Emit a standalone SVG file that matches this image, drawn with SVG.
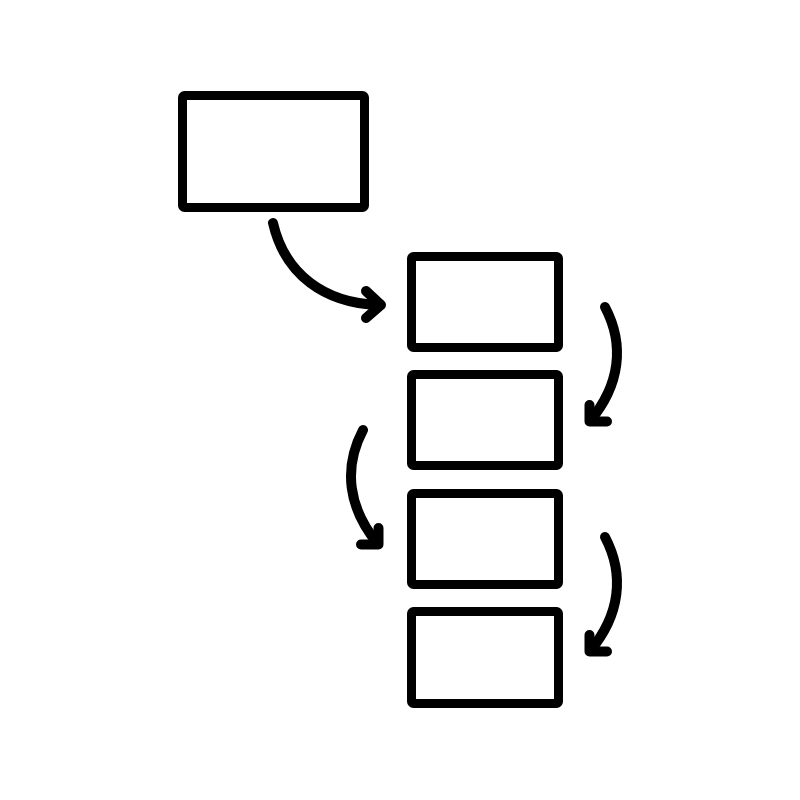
<svg xmlns="http://www.w3.org/2000/svg" width="800" height="800" viewBox="0 0 800 800">
<style>
.box{fill:#fff;stroke:#000;stroke-width:9;stroke-linejoin:round}
.conn{fill:none;stroke:#000;stroke-width:10;stroke-linecap:round;stroke-linejoin:round}
</style>
<rect width="800" height="800" fill="#fff"/>
<g id="node-top"><rect class="box" x="182.5" y="95.5" width="182" height="112" rx="2"/></g>
<g id="node-1"><rect class="box" x="411.5" y="256.5" width="147" height="91" rx="2"/></g>
<g id="node-2"><rect class="box" x="411.5" y="374.5" width="147" height="91" rx="2"/></g>
<g id="node-3"><rect class="box" x="411.5" y="493.5" width="147" height="91" rx="2"/></g>
<g id="node-4"><rect class="box" x="411.5" y="611.5" width="147" height="92" rx="2"/></g>
<g id="connectors">
<path class="conn" d="M273,223 C285,275 325,303 378,305"/>
<path class="conn" d="M366,291 L381,305 L366,318"/>
<path class="conn" d="M605,307 C625,345 620,385 590,421"/>
<path class="conn" d="M589.5,405 L589.5,421.5 L607,421.5"/>
<path class="conn" d="M363,430 C343,468 348,508 378,544"/>
<path class="conn" d="M378.5,528 L378.5,544.5 L361,544.5"/>
<path class="conn" d="M605,537 C625,575 620,615 590,651"/>
<path class="conn" d="M589.5,635 L589.5,651.5 L607,651.5"/>
</g>
</svg>
